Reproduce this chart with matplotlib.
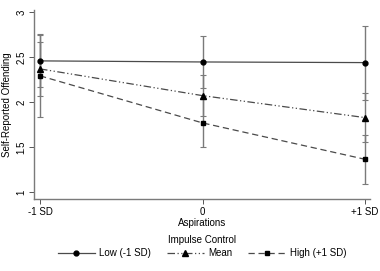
import matplotlib
matplotlib.use("Agg")
import matplotlib.pyplot as plt
import numpy as np

# Data
x_labels = ['-1 SD', '0', '+1 SD']
x_pos = [-1, 0, 1]
groups = ['Low (-1 SD)', 'Mean', 'High (+1 SD)']

low_mean = [2.456, 2.444, 2.437]
low_ci = [0.29, 0.29, 0.41]
mid_mean = [2.367, 2.07, 1.826]
mid_ci = [0.30, 0.23, 0.27]
high_mean = [2.29, 1.767, 1.363]
high_ci = [0.46, 0.27, 0.27]

y_ticks = [1, 1.5, 2, 2.5, 3]

plt.rcParams['font.family'] = ['Liberation Sans', 'DejaVu Sans']

fig = plt.figure(figsize=(3.8, 2.71), dpi=100)
ax = fig.add_axes([0.0895, 0.2657, 0.884, 0.697])

styles = [
    (low_mean, low_ci, 'o', '-', 3.5),
    (mid_mean, mid_ci, '^', (0, (6, 2, 1, 2, 1, 2)), 3.8),
    (high_mean, high_ci, 's', (0, (5, 3)), 3.5),
]

handles = []
for (m, ci, mk, ls, ms), name in zip(styles, groups):
    ax.errorbar(x_pos, m, yerr=ci, fmt='none', ecolor='#7a7a7a',
                elinewidth=1.0, capsize=2.5, capthick=0.8, zorder=2)
    h, = ax.plot(x_pos, m, color='#4a4a4a', linestyle=ls, linewidth=0.9,
                 marker=mk, markersize=ms, markerfacecolor='black',
                 markeredgecolor='black', zorder=3, label=name)
    handles.append(h)

ax.set_xlim(-1.037, 1.03)
ax.set_ylim(0.922, 3.02)
ax.set_xticks(x_pos)
ax.set_xticklabels(x_labels, fontsize=7)
ax.set_yticks(y_ticks)
ax.set_yticklabels(['1', '1.5', '2', '2.5', '3'], fontsize=7,
                   rotation=90, va='center')
ax.tick_params(axis='both', length=3.5, width=0.7, color='#555555', pad=2)

for s in ['top', 'right']:
    ax.spines[s].set_visible(False)
for s in ['left', 'bottom']:
    ax.spines[s].set_color('#7a7a7a')
    ax.spines[s].set_linewidth(1.0)

ax.set_xlabel('Aspirations', fontsize=7, labelpad=1)
ax.set_ylabel('Self-Reported Offending', fontsize=7, labelpad=3)

# legend title drawn separately so its spacing can be controlled
fig.text(0.532, 1 - 240 / 271, 'Impulse Control', fontsize=7,
         ha='center', va='center')
leg = fig.legend(handles=handles, loc='center', ncol=3,
                 bbox_to_anchor=(0.532, 1 - 253 / 271), frameon=False,
                 fontsize=7, handlelength=3.8, columnspacing=1.6,
                 handletextpad=0.5, borderpad=0)

fig.savefig('out.png', dpi=100)
